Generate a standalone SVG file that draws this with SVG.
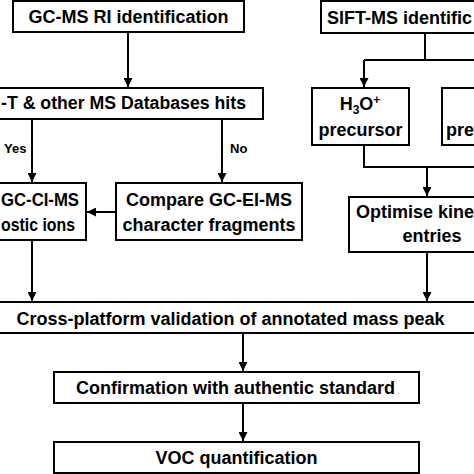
<svg xmlns="http://www.w3.org/2000/svg" width="474" height="474" viewBox="0 0 474 474">
<defs>
<style>
.box{fill:#fff;stroke:#000;stroke-width:2}
.t{font-family:"Liberation Sans",Arial,sans-serif;font-weight:bold;font-size:18px;fill:#000}
.s{font-family:"Liberation Sans",Arial,sans-serif;font-weight:bold;font-size:13px;fill:#000}
.c{fill:none;stroke:#000;stroke-width:2}
.a{fill:none;stroke:#000;stroke-width:2;marker-end:url(#ah)}
</style>
<marker id="ah" markerUnits="userSpaceOnUse" markerWidth="9" markerHeight="9" refX="9" refY="4.5" orient="auto">
<path d="M0,0 L9,4.5 L0,9 z" fill="#000"/>
</marker>
</defs>
<rect width="474" height="474" fill="#fff"/>
<g id="connectors">
<path class="a" d="M128,33 V87"/>
<path class="c" d="M425,34 V60 M364,60 H480"/>
<path class="a" d="M364,60 V87"/>
<path class="c" d="M364,146 V167 H480"/>
<path class="a" d="M427,167 V196"/>
<path class="a" d="M32,120 V182"/>
<path class="a" d="M222,120 V182"/>
<path class="a" d="M115,212 H87"/>
<path class="a" d="M32,241 V301"/>
<path class="a" d="M427,253 V301"/>
<path class="a" d="M243,334 V371"/>
<path class="a" d="M243,404 V441"/>
</g>
<g id="n_gcms">
<rect class="box" x="13" y="1" width="231" height="31"/>
<text class="t" x="128.5" y="23" text-anchor="middle">GC-MS RI identification</text>
</g>
<g id="n_sift">
<rect class="box" x="321" y="1" width="220" height="32"/>
<text class="t" x="327" y="24">SIFT-MS identific</text>
</g>
<g id="n_db">
<rect class="box" x="-60" y="88" width="323" height="31"/>
<text class="t" x="1" y="109" textLength="245" lengthAdjust="spacingAndGlyphs">-T &amp; other MS Databases hits</text>
</g>
<text class="s" x="4" y="153">Yes</text>
<text class="s" x="230" y="153">No</text>
<g id="n_h3o">
<rect class="box" x="312" y="88" width="97" height="57"/>
<text class="t" x="360" y="110" text-anchor="middle">H<tspan font-size="12" dy="4">3</tspan><tspan dy="-4">O</tspan><tspan font-size="12" dy="-6">+</tspan></text>
<text class="t" x="360.5" y="136" text-anchor="middle">precursor</text>
</g>
<g id="n_prec2">
<rect class="box" x="442" y="88" width="100" height="57"/>
<text class="t" x="446" y="136">pre</text>
</g>
<g id="n_ci">
<rect class="box" x="-60" y="183" width="146" height="57"/>
<text class="t" x="1" y="206" textLength="78" lengthAdjust="spacingAndGlyphs">GC-CI-MS</text>
<text class="t" x="1" y="231" textLength="74" lengthAdjust="spacingAndGlyphs">ostic ions</text>
</g>
<g id="n_ei">
<rect class="box" x="116" y="183" width="186" height="57"/>
<text class="t" x="209" y="206" text-anchor="middle">Compare GC-EI-MS</text>
<text class="t" x="209" y="231" text-anchor="middle">character fragments</text>
</g>
<g id="n_opt">
<rect class="box" x="349" y="197" width="170" height="55"/>
<text class="t" x="356" y="218">Optimise kine</text>
<text class="t" x="432" y="242" text-anchor="middle">entries</text>
</g>
<g id="n_cross">
<rect class="box" x="-10" y="302" width="494" height="31"/>
<text class="t" x="230.5" y="325" text-anchor="middle">Cross-platform validation of annotated mass peak</text>
</g>
<g id="n_conf">
<rect class="box" x="54" y="372" width="365" height="31"/>
<text class="t" x="235.5" y="394" text-anchor="middle">Confirmation with authentic standard</text>
</g>
<g id="n_voc">
<rect class="box" x="54" y="442" width="365" height="31"/>
<text class="t" x="236.5" y="464" text-anchor="middle">VOC quantification</text>
</g>
</svg>
